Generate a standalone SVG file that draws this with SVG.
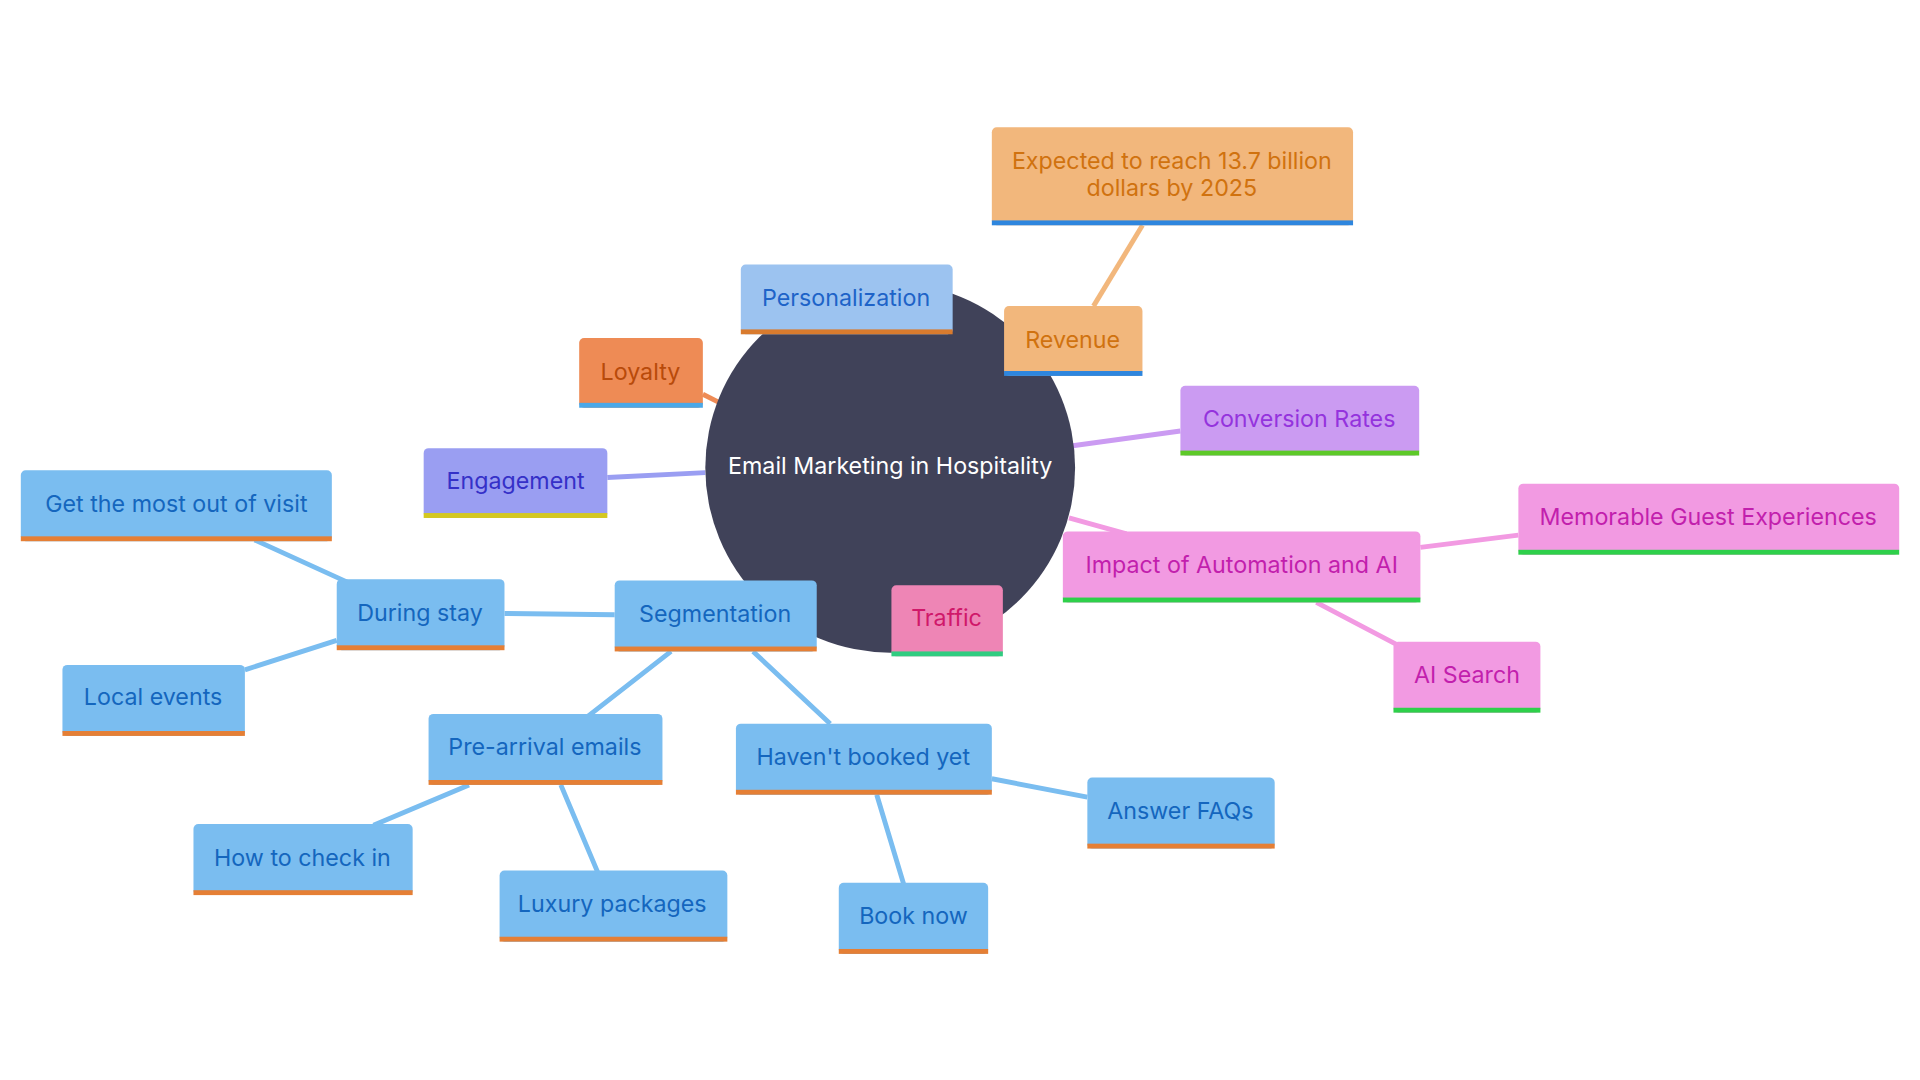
<svg xmlns="http://www.w3.org/2000/svg" width="1920" height="1080" viewBox="0 0 1920 1080">
<style>
text{font-family:Inter,"Noto Sans",sans-serif;font-size:19px;text-anchor:middle;dominant-baseline:central}
.e{fill:none;stroke-width:4}
.b rect.f{fill:#7ABDF0}.b text{fill:#1466BE}.b rect.s{fill:#E57F35}
</style>
<rect width="1920" height="1080" fill="#fff"/>
<g transform="scale(1.22449)">
<g id="connectors">
<path class="e" stroke="#F2B77C" d="M893,250L933,184"/>
<path class="e" stroke="#EE8B55" d="M574,322L590,330"/>
<path class="e" stroke="#9A9EF2" d="M496,390L576,386"/>
<path class="e" stroke="#CB9BF2" d="M876,364L964,352"/>
<path class="e" stroke="#F29AE2" d="M873,423L920,436M1160,447L1240,437M1075,492L1140,526"/>
<path class="e" stroke="#7ABDF0" d="M412,501L502,502M285,476L208,441M275,523L200,547M548,532L480,585M615,532L678,591M383,641L305,674M458,641L488,712M810,636L888,651M716,649L738,722"/>
</g>
<g id="center"><circle cx="727" cy="382" r="151" fill="#404259"/><text x="727" y="380" fill="#fff">Email Marketing in Hospitality</text></g>
<g id="expected"><rect x="810" y="104" width="295" height="80" rx="4" fill="#F2B77C"/><rect x="810" y="180" width="295" height="4" fill="#2E86DE"/><text x="957" y="131" fill="#D0720F">Expected to reach 13.7 billion</text><text x="957" y="153" fill="#D0720F">dollars by 2025</text></g>
<g id="personalization"><rect x="605" y="216" width="173" height="57" rx="4" fill="#9CC3F0"/><rect x="605" y="269" width="173" height="4" fill="#D97B2E"/><text x="691" y="243" fill="#1E63C8">Personalization</text></g>
<g id="revenue"><rect x="820" y="250" width="113" height="57" rx="4" fill="#F2B77C"/><rect x="820" y="303" width="113" height="4" fill="#2E86DE"/><text x="876" y="277" fill="#D0720F">Revenue</text></g>
<g id="loyalty"><rect x="473" y="276" width="101" height="57" rx="4" fill="#EE8B55"/><rect x="473" y="329" width="101" height="4" fill="#4AA8E8"/><text x="523" y="303" fill="#B84A0A">Loyalty</text></g>
<g id="conversion"><rect x="964" y="315" width="195" height="57" rx="4" fill="#CB9BF2"/><rect x="964" y="368" width="195" height="4" fill="#5DC928"/><text x="1061" y="342" fill="#9433DD">Conversion Rates</text></g>
<g id="engagement"><rect x="346" y="366" width="150" height="57" rx="4" fill="#9A9EF2"/><rect x="346" y="419" width="150" height="4" fill="#D4C820"/><text x="421" y="392" fill="#3530C8">Engagement</text></g>
<g id="memorable"><rect x="1240" y="395" width="311" height="58" rx="4" fill="#F29AE2"/><rect x="1240" y="449" width="311" height="4" fill="#2ED04A"/><text x="1395" y="422" fill="#C21FAD">Memorable Guest Experiences</text></g>
<g id="impact"><rect x="868" y="434" width="292" height="58" rx="4" fill="#F29AE2"/><rect x="868" y="488" width="292" height="4" fill="#2ED04A"/><text x="1014" y="461" fill="#C21FAD">Impact of Automation and AI</text></g>
<g id="aisearch"><rect x="1138" y="524" width="120" height="58" rx="4" fill="#F29AE2"/><rect x="1138" y="578" width="120" height="4" fill="#2ED04A"/><text x="1198" y="551" fill="#C21FAD">AI Search</text></g>
<g id="traffic"><rect x="728" y="478" width="91" height="58" rx="4" fill="#EE85B5"/><rect x="728" y="532" width="91" height="4" fill="#30CC80"/><text x="773" y="504" fill="#D0186A">Traffic</text></g>
<g id="segmentation" class="b"><rect class="f" x="502" y="474" width="165" height="58" rx="4"/><rect class="s" x="502" y="528" width="165" height="4"/><text x="584" y="501">Segmentation</text></g>
<g id="during" class="b"><rect class="f" x="275" y="473" width="137" height="58" rx="4"/><rect class="s" x="275" y="527" width="137" height="4"/><text x="343" y="500">During stay</text></g>
<g id="getmost" class="b"><rect class="f" x="17" y="384" width="254" height="58" rx="4"/><rect class="s" x="17" y="438" width="254" height="4"/><text x="144" y="411">Get the most out of visit</text></g>
<g id="local" class="b"><rect class="f" x="51" y="543" width="149" height="58" rx="4"/><rect class="s" x="51" y="597" width="149" height="4"/><text x="125" y="569">Local events</text></g>
<g id="prearrival" class="b"><rect class="f" x="350" y="583" width="191" height="58" rx="4"/><rect class="s" x="350" y="637" width="191" height="4"/><text x="445" y="610">Pre-arrival emails</text></g>
<g id="havent" class="b"><rect class="f" x="601" y="591" width="209" height="58" rx="4"/><rect class="s" x="601" y="645" width="209" height="4"/><text x="705" y="618">Haven't booked yet</text></g>
<g id="faqs" class="b"><rect class="f" x="888" y="635" width="153" height="58" rx="4"/><rect class="s" x="888" y="689" width="153" height="4"/><text x="964" y="662">Answer FAQs</text></g>
<g id="checkin" class="b"><rect class="f" x="158" y="673" width="179" height="58" rx="4"/><rect class="s" x="158" y="727" width="179" height="4"/><text x="247" y="700">How to check in</text></g>
<g id="luxury" class="b"><rect class="f" x="408" y="711" width="186" height="58" rx="4"/><rect class="s" x="408" y="765" width="186" height="4"/><text x="500" y="738">Luxury packages</text></g>
<g id="booknow" class="b"><rect class="f" x="685" y="721" width="122" height="58" rx="4"/><rect class="s" x="685" y="775" width="122" height="4"/><text x="746" y="748">Book now</text></g>
</g>
</svg>
